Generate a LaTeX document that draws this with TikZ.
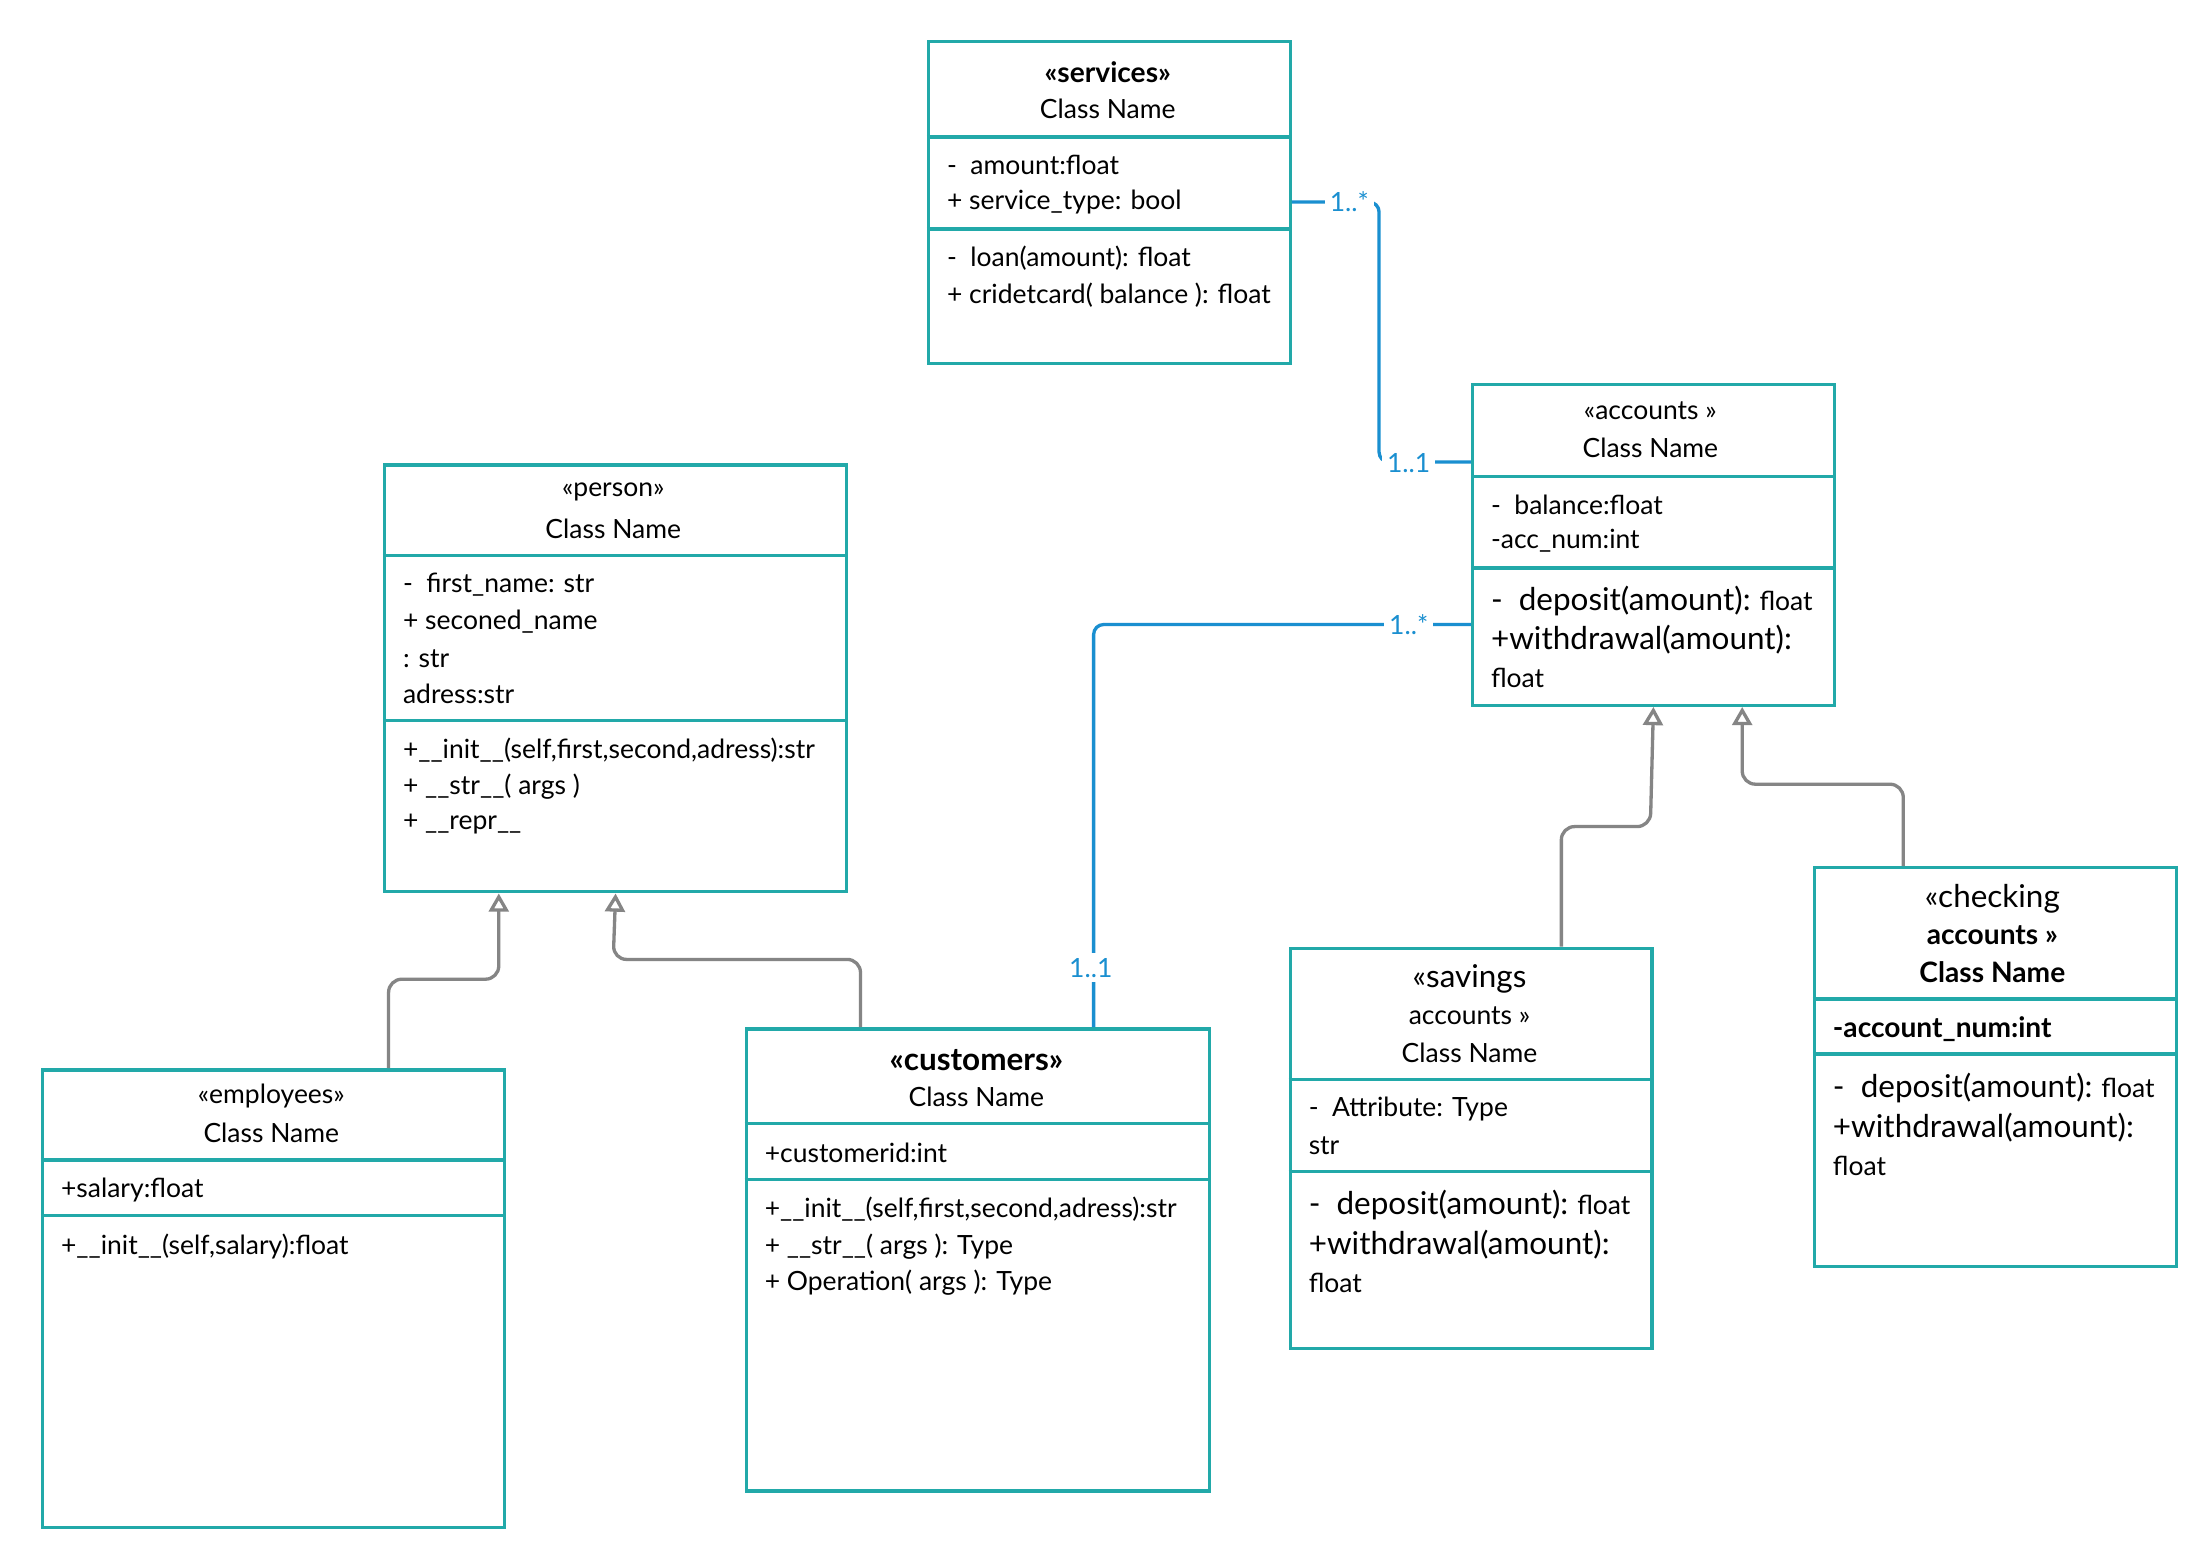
\documentclass[tikz,border=0pt]{standalone}
\usepackage{fontspec}
\setmainfont{Lato}
\usetikzlibrary{arrows.meta}
\definecolor{tl}{HTML}{22A9A9}
\definecolor{bl}{HTML}{1A8FD0}
\definecolor{gr}{HTML}{858585}
\newcommand\umlbox[5]{\node[box,anchor=north west,minimum width={(#4-#2)*0.03cm},minimum height={(#5-#3)*0.03cm}] (#1) at (#2,#3) {};}
\begin{document}
\begin{tikzpicture}[x=0.03cm,y=-0.03cm,
  box/.style={draw=tl,line width=2pt,inner sep=0pt,fill=none},
  dv/.style={draw=tl,line width=2pt},
  t/.style={inner sep=0pt,font=\fontsize{16}{20}\selectfont,text=black},
  l/.style={t,anchor=west},
  c/.style={t,anchor=center},
  big/.style={font=\fontsize{19}{22}\selectfont},
  assoc/.style={draw=bl,line width=2pt,rounded corners=6pt},
  lab/.style={t,fill=white,inner sep=3pt,text=bl},
  inh/.style={draw=gr,line width=2pt,rounded corners=8pt,-{Triangle[open,length=11pt,width=12pt]}}]
\useasboundingbox[fill=white] (0,0) rectangle (1557,1102);
% boxes
\umlbox{services}{656}{28}{912}{256}
\draw[dv] (656,97)--(912,97); \draw[dv] (656,162)--(912,162);
\umlbox{accounts}{1041}{271}{1297}{498}
\draw[dv] (1041,337)--(1297,337); \draw[dv] (1041,402)--(1297,402);
\umlbox{person}{271}{328}{598}{630}
\draw[dv] (271,393)--(598,393); \draw[dv] (271,510)--(598,510);
\umlbox{employees}{29}{756}{356}{1080}
\draw[dv] (29,821)--(356,821); \draw[dv] (29,860)--(356,860);
\umlbox{customers}{527}{727}{855}{1054}
\draw[dv] (527,795)--(855,795); \draw[dv] (527,835)--(855,835);
\umlbox{savings}{912}{670}{1168}{953}
\draw[dv] (912,764)--(1168,764); \draw[dv] (912,829)--(1168,829);
\umlbox{checking}{1283}{613}{1539}{895}
\draw[dv] (1283,707)--(1539,707); \draw[dv] (1283,746)--(1539,746);
% services text
\node[c,font=\fontsize{17}{20}\selectfont\bfseries] at (784,51) {<<services>>};
\node[c] at (784,77) {Class Name};
\node[l] at (670,117) {-\ \ amount:float};
\node[l] at (670,143) {+ service\_type: bool};
\node[l] at (670,183) {-\ \ loan(amount): float};
\node[l] at (670,209) {+ cridetcard( balance ): float};
% accounts text
\node[c] at (1168,291) {<<accounts >>};
\node[c] at (1168,317) {Class Name};
\node[l] at (1055,357) {-\ \ balance:float};
\node[l] at (1055,383) {-acc\_num:int};
\node[l] at (1055,425) {{\fontsize{19}{22}\selectfont -\ \ deposit(amount):} float};
\node[l,big] at (1055,453) {+withdrawal(amount):};
\node[l] at (1055,480) {float};
% person
\node[c] at (434,348) {<<person>>};
\node[c] at (434,374) {Class Name};
\node[l] at (285,414) {-\ \ first\_name: str};
\node[l] at (285,440) {+ seconed\_name};
\node[l] at (285,466) {: str};
\node[l] at (285,491) {adress:str};
\node[l] at (285,531) {+\_\_init\_\_(self,first,second,adress):str};
\node[l] at (285,557) {+ \_\_str\_\_( args )};
\node[l] at (285,583) {+ \_\_repr\_\_};
% employees
\node[c] at (192,776) {<<employees>>};
\node[c] at (192,802) {Class Name};
\node[l] at (43,842) {+salary:float};
\node[l] at (43,882) {+\_\_init\_\_(self,salary):float};
% customers
\node[c,font=\fontsize{19}{22}\selectfont\bfseries] at (691,750) {<<customers>>};
\node[c] at (691,776) {Class Name};
\node[l] at (541,816) {+customerid:int};
\node[l] at (541,856) {+\_\_init\_\_(self,first,second,adress):str};
\node[l] at (541,882) {+ \_\_str\_\_( args ): Type};
\node[l] at (541,908) {+ Operation( args ): Type};
% savings
\node[c,big] at (1040,693) {<<savings};
\node[c] at (1040,719) {accounts >>};
\node[c] at (1040,745) {Class Name};
\node[l] at (926,785) {-\ \ Attribute: Type};
\node[l] at (926,811) {str};
\node[l] at (926,853) {{\fontsize{19}{22}\selectfont -\ \ deposit(amount):} float};
\node[l,big] at (926,881) {+withdrawal(amount):};
\node[l] at (926,908) {float};
% checking
\node[c,big] at (1410,636) {<<checking};
\node[c,font=\fontsize{17}{20}\selectfont\bfseries] at (1410,662) {accounts >>};
\node[c,font=\fontsize{17}{20}\selectfont\bfseries] at (1410,688) {Class Name};
\node[l,font=\fontsize{17}{20}\selectfont\bfseries] at (1297,728) {-account\_num:int};
\node[l] at (1297,770) {{\fontsize{19}{22}\selectfont -\ \ deposit(amount):} float};
\node[l,big] at (1297,798) {+withdrawal(amount):};
\node[l] at (1297,825) {float};
% associations
\draw[assoc] (services.east|-0,143) -- (976,143) -- (976,327) -- (accounts.west|-0,327);
\node[lab] at (955,143) {1..*};
\node[lab] at (997,328) {1..1};
\draw[assoc] (accounts.west|-0,442) -- (774,442) -- (customers.north-|774,0);
\node[lab] at (997,442) {1..*};
\node[lab] at (772,685) {1..1};
% inheritance
\coordinate (e1) at (275,693); \coordinate (e2) at (353,693);
\draw[inh] (employees.north-|275,0) -- (e1) -- (e2) -- (person.south-|353,0);
\coordinate (c1) at (609,679); \coordinate (c2) at (434,679);
\draw[inh] (customers.north-|609,0) -- (c1) -- (c2) -- (person.south);
\coordinate (s1) at (1105,585); \coordinate (s2) at (1168,585);
\draw[inh] (savings.north-|1105,0) -- (s1) -- (s2) -- (accounts.south);
\coordinate (k1) at (1347,555); \coordinate (k2) at (1233,555);
\draw[inh] (checking.north-|1347,0) -- (k1) -- (k2) -- (accounts.south-|1233,0);
\end{tikzpicture}
\end{document}
